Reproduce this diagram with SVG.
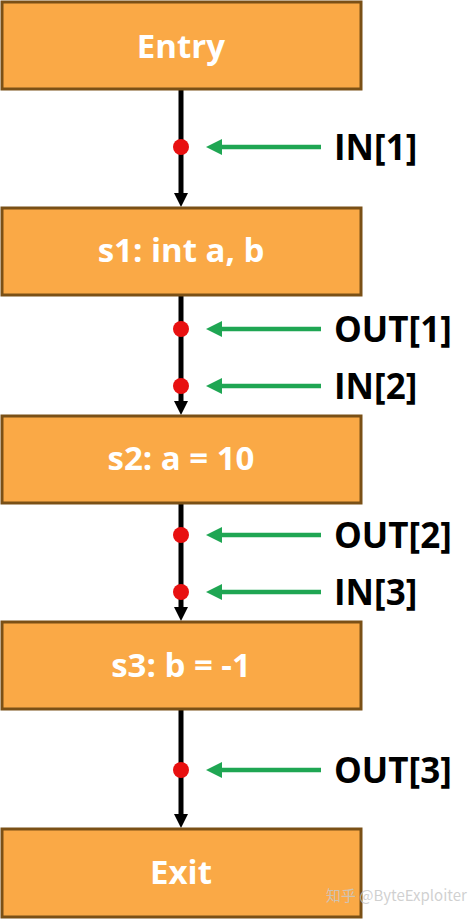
<svg xmlns="http://www.w3.org/2000/svg" width="474" height="919" viewBox="0 0 474 919">
<style>
.box{fill:#FAA946;stroke:#7A5016;stroke-width:3}
.bt{font-family:"Open Sans","Noto Sans",sans-serif;font-weight:bold;font-size:33px;fill:#FFFFFF;text-anchor:middle}
.lb{font-family:"Open Sans","Noto Sans",sans-serif;font-weight:bold;font-size:35px;fill:#000000}
.flow{stroke:#000;stroke-width:5;fill:none}
.dot{fill:#E81010}
.ga{stroke:#1FA653;stroke-width:4.5;fill:none}
.wm{font-family:"Noto Sans CJK SC","Noto Sans",sans-serif;font-size:15px;fill:#C8C8C8;fill-opacity:0.85}
</style>
<g id="connectors">
<line class="flow" x1="181" y1="90" x2="181" y2="193"/>
<path d="M174,193L188,193L181,207Z" fill="#000"/>
<line class="flow" x1="181" y1="296" x2="181" y2="401"/>
<path d="M174,401L188,401L181,415Z" fill="#000"/>
<line class="flow" x1="181" y1="504" x2="181" y2="607"/>
<path d="M174,607L188,607L181,621Z" fill="#000"/>
<line class="flow" x1="181" y1="710" x2="181" y2="814"/>
<path d="M174,814L188,814L181,828Z" fill="#000"/>
</g>
<g id="points">
<g id="p-in1"><circle class="dot" cx="181" cy="147" r="8"/><line class="ga" x1="321" y1="147" x2="220" y2="147"/><path d="M206,147L222,139L222,155Z" fill="#1FA653"/><text class="lb" x="334" y="160">IN[1]</text></g>
<g id="p-out1"><circle class="dot" cx="181" cy="329" r="8"/><line class="ga" x1="321" y1="329" x2="220" y2="329"/><path d="M206,329L222,321L222,337Z" fill="#1FA653"/><text class="lb" x="334" y="342">OUT[1]</text></g>
<g id="p-in2"><circle class="dot" cx="181" cy="386" r="8"/><line class="ga" x1="321" y1="386" x2="220" y2="386"/><path d="M206,386L222,378L222,394Z" fill="#1FA653"/><text class="lb" x="334" y="399">IN[2]</text></g>
<g id="p-out2"><circle class="dot" cx="181" cy="535" r="8"/><line class="ga" x1="321" y1="535" x2="220" y2="535"/><path d="M206,535L222,527L222,543Z" fill="#1FA653"/><text class="lb" x="334" y="548">OUT[2]</text></g>
<g id="p-in3"><circle class="dot" cx="181" cy="592" r="8"/><line class="ga" x1="321" y1="592" x2="220" y2="592"/><path d="M206,592L222,584L222,600Z" fill="#1FA653"/><text class="lb" x="334" y="605">IN[3]</text></g>
<g id="p-out3"><circle class="dot" cx="181" cy="770" r="8"/><line class="ga" x1="321" y1="770" x2="220" y2="770"/><path d="M206,770L222,762L222,778Z" fill="#1FA653"/><text class="lb" x="334" y="783">OUT[3]</text></g>
</g>
<g id="entry"><rect class="box" x="2" y="2" width="359" height="87"/><text class="bt" x="181" y="58">Entry</text></g>
<g id="s1"><rect class="box" x="2" y="208" width="359" height="87"/><text class="bt" x="181" y="262">s1: int a, b</text></g>
<g id="s2"><rect class="box" x="2" y="416" width="359" height="87"/><text class="bt" x="181" y="470">s2: a = 10</text></g>
<g id="s3"><rect class="box" x="2" y="622" width="359" height="87"/><text class="bt" x="181" y="677">s3: b = -1</text></g>
<g id="exit"><rect class="box" x="2" y="829" width="359" height="88"/><text class="bt" x="181" y="884">Exit</text></g>
<text class="wm" x="326" y="901">知乎 @ByteExploiter</text>
</svg>
